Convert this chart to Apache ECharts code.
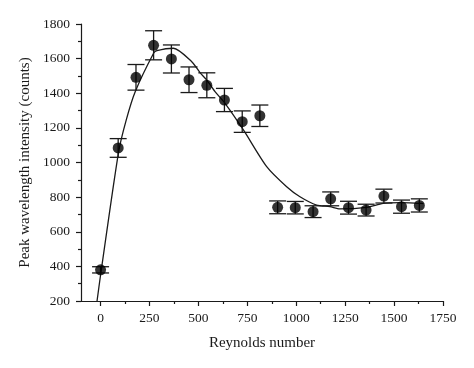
<!DOCTYPE html>
<html>
<head>
<meta charset="utf-8">
<script src="https://cdn.jsdelivr.net/npm/echarts@6/dist/echarts.min.js"></script>
<style>
html,body{margin:0;padding:0;background:#fff;}
#chart{width:474px;height:368px;}
</style>
</head>
<body>
<div id="chart"></div>
<script>
var reynolds = [0, 90, 181, 271, 362, 452, 543, 633, 724, 814, 905, 995, 1086, 1176, 1267, 1357, 1448, 1538, 1629];
var intensity = [380, 1084, 1492, 1677, 1598, 1478, 1446, 1361, 1236, 1270, 741, 739, 716, 790, 739, 725, 806, 745, 752];
var errors = [18, 54, 74, 84, 81, 74, 72, 67, 62, 62, 37, 36, 34, 40, 37, 34, 40, 38, 38];
var fitX = [-18, 0, 92, 131, 177, 271, 288, 372, 466, 509, 543, 585, 636, 730, 849, 951, 1019, 1104, 1172, 1223, 1359, 1444, 1530, 1632, 1650];
var fitY = [200, 350, 1060, 1245, 1409, 1631, 1646, 1660, 1582, 1518, 1476, 1409, 1342, 1188, 976, 860, 802, 754, 745, 732, 741, 764, 768, 764, 763];
var xMajorTicks = [0, 250, 500, 750, 1000, 1250, 1500, 1750];
var xMinorTicks = [125, 375, 625, 875, 1125, 1375, 1625];

var chart = echarts.init(document.getElementById('chart'), null, {renderer: 'canvas'});
var font = '"Liberation Serif", "DejaVu Serif", serif';
var ink = '#1a1a1a';

var pts = reynolds.map(function (x, i) { return [x, intensity[i]]; });
var errData = reynolds.map(function (x, i) { return [x, intensity[i] - errors[i], intensity[i] + errors[i]]; });
var fitData = fitX.map(function (x, i) { return [x, fitY[i]]; });
var plain = function (v) { return String(v); };

var option = {
  backgroundColor: '#fff',
  animation: false,
  grid: {left: 81, right: 31, top: 24, bottom: 67, containLabel: false},
  xAxis: [{
    type: 'value', min: -100, max: 1750,
    name: 'Reynolds number', nameLocation: 'middle', nameGap: 35,
    nameTextStyle: {fontFamily: font, fontSize: 15, color: ink},
    axisLine: {show: true, onZero: false, lineStyle: {color: ink, width: 1.2}},
    axisTick: {show: true, inside: false, length: 5, customValues: xMajorTicks, lineStyle: {color: ink, width: 1.2}},
    axisLabel: {show: true, margin: 10, customValues: xMajorTicks, formatter: plain, fontFamily: font, fontSize: 13.5, color: ink},
    splitLine: {show: false}
  }, {
    type: 'value', min: -100, max: 1750, position: 'bottom',
    axisLine: {show: false, onZero: false},
    axisTick: {show: true, inside: false, length: 3, customValues: xMinorTicks, lineStyle: {color: ink, width: 1.2}},
    axisLabel: {show: false},
    splitLine: {show: false}
  }],
  yAxis: {
    type: 'value', min: 200, max: 1800, interval: 200,
    name: 'Peak wavelength intensity (counts)', nameLocation: 'middle', nameGap: 48,
    nameTextStyle: {fontFamily: font, fontSize: 15, color: ink},
    axisLine: {show: true, onZero: false, lineStyle: {color: ink, width: 1.2}},
    axisTick: {show: true, inside: false, length: 5, lineStyle: {color: ink, width: 1.2}},
    minorTick: {show: true, splitNumber: 2, length: 3, lineStyle: {color: ink, width: 1.2}},
    axisLabel: {margin: 11, formatter: plain, fontFamily: font, fontSize: 13.5, color: ink},
    splitLine: {show: false},
    minorSplitLine: {show: false}
  },
  series: [{
    type: 'line', data: fitData, smooth: 0.25, symbol: 'none',
    lineStyle: {color: ink, width: 1.3}, z: 2
  }, {
    type: 'custom', data: errData, z: 3,
    renderItem: function (params, api) {
      var x = api.value(0);
      var lo = api.coord([x, api.value(1)]);
      var hi = api.coord([x, api.value(2)]);
      var hw = 8.5;
      var st = {stroke: ink, lineWidth: 1.3};
      return {type: 'group', children: [
        {type: 'line', shape: {x1: lo[0], y1: lo[1], x2: hi[0], y2: hi[1]}, style: st},
        {type: 'line', shape: {x1: lo[0] - hw, y1: lo[1], x2: lo[0] + hw, y2: lo[1]}, style: st},
        {type: 'line', shape: {x1: hi[0] - hw, y1: hi[1], x2: hi[0] + hw, y2: hi[1]}, style: st}
      ]};
    }
  }, {
    type: 'scatter', data: pts, symbol: 'circle', symbolSize: 11,
    itemStyle: {color: '#000'}, z: 4
  }]
};
chart.setOption(option);
</script>
</body>
</html>
